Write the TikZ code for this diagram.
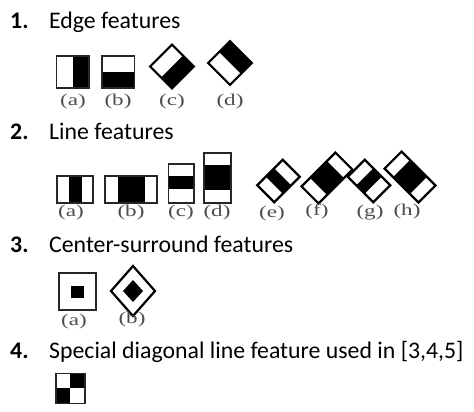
\documentclass[tikz,border=0pt]{standalone}
\usepackage{fontspec}
\setmainfont{Carlito}
\newfontfamily\labfont{Liberation Serif}
\newcommand\lbl[1]{\scalebox{1.4}[1]{#1}}
\begin{document}
\begin{tikzpicture}[x=1pt,y=-1pt,
  head/.style={anchor=base west, inner sep=0pt, font=\fontsize{23.8}{28}\selectfont, text=black},
  num/.style={head, font=\fontsize{23.8}{28}\selectfont\bfseries},
  lab/.style={inner sep=0pt, font=\labfont\fontsize{16.5}{18}\selectfont, text=black!70},
  box/.style={draw=black!85, line width=1.6pt},
  dbox/.style={draw=black, line width=2.2pt}]
\useasboundingbox (0,0) rectangle (474,412);

% headings
\node[num] (n1) at (10,29) {1.};
\node[head] (t1) at (49,29) {Edge features};
\node[num] (n2) at (10,139) {2.};
\node[head] (t2) at (49,139) {Line features};
\node[num] (n3) at (10,252) {3.};
\node[head] (t3) at (49,252) {Center-surround features};
\node[num] (n4) at (10,358) {4.};
\node[head] (t4) at (49,358) {Special diagonal line feature used in [3,4,5]};

% ---------- 1. edge features
\fill[black] (72.5,56) rectangle (89,88);
\draw[box] (56.5,56) rectangle (89,88);
\fill[black] (101.7,72.3) rectangle (134.3,88);
\draw[box] (101.7,56) rectangle (134.3,88);
\begin{scope}[shift={(172,66.5)},rotate=-45]
  \fill[black] (0,-15.5) rectangle (15.5,15.5);
  \draw[dbox] (-15.5,-15.5) rectangle (15.5,15.5);
\end{scope}
\begin{scope}[shift={(230,63)},rotate=45]
  \fill[black] (0,-15.5) rectangle (15.5,15.5);
  \draw[dbox] (-15.5,-15.5) rectangle (15.5,15.5);
\end{scope}
\node[lab] (ea) at (73,101.5) {\lbl{(a)}};
\node[lab] (eb) at (118,101.5) {\lbl{(b)}};
\node[lab] (ec) at (172,101.5) {\lbl{(c)}};
\node[lab] (ed) at (230,101.5) {\lbl{(d)}};

% ---------- 2. line features
\fill[black] (69.3,176) rectangle (81.7,202.7);
\draw[box] (57,176) rectangle (93,202.7);
\fill[black] (118.3,176) rectangle (145,202.7);
\draw[box] (105,176) rectangle (156.7,202.7);
\fill[black] (168.3,176) rectangle (194,189.3);
\draw[box] (168.3,164) rectangle (194,202.7);
\fill[black] (204,165) rectangle (231,190);
\draw[box] (204,152.7) rectangle (231,202.7);
\begin{scope}[shift={(278.5,181)},rotate=45]
  \fill[black] (-6,-12) rectangle (6,12);
  \draw[dbox] (-18,-12) rectangle (18,12);
\end{scope}
\begin{scope}[shift={(327,178)},rotate=45]
  \fill[black] (-12,-12) rectangle (12,12);
  \draw[dbox] (-24,-12) rectangle (24,12);
\end{scope}
\begin{scope}[shift={(369,181)},rotate=-45]
  \fill[black] (-6,-12) rectangle (6,12);
  \draw[dbox] (-18,-12) rectangle (18,12);
\end{scope}
\begin{scope}[shift={(410,177)},rotate=-45]
  \fill[black] (-12,-12) rectangle (12,12);
  \draw[dbox] (-24,-12) rectangle (24,12);
\end{scope}
\node[lab] (la) at (71,213) {\lbl{(a)}};
\node[lab] (lb) at (131,213) {\lbl{(b)}};
\node[lab] (lc) at (181,213) {\lbl{(c)}};
\node[lab] (ld) at (217,213) {\lbl{(d)}};
\node[lab] (le) at (272,213.5) {\lbl{(e)}};
\node[lab] (lf) at (317,211.5) {\lbl{(f)}};
\node[lab] (lg) at (370,213) {\lbl{(g)}};
\node[lab] (lh) at (407,211.5) {\lbl{(h)}};

% ---------- 3. center-surround
\draw[box] (59,272.7) rectangle (96,310);
\fill[black] (71,285.7) rectangle (84.3,297.7);
\draw[dbox] (111,291) -- (133,266) -- (155,291) -- (133,316) -- cycle;
\fill[black] (123,291) -- (133,280) -- (143,291) -- (133,302) -- cycle;
\node[lab] (ca) at (74,322) {\lbl{(a)}};
\node[lab] (cb) at (132,320) {\lbl{(b)}};

% ---------- 4. special diagonal
\fill[black] (70.3,373.3) rectangle (85,388.3);
\fill[black] (55.7,388.3) rectangle (70.3,403.3);
\draw[box] (55.7,373.3) rectangle (85,403.3);
\end{tikzpicture}
\end{document}
